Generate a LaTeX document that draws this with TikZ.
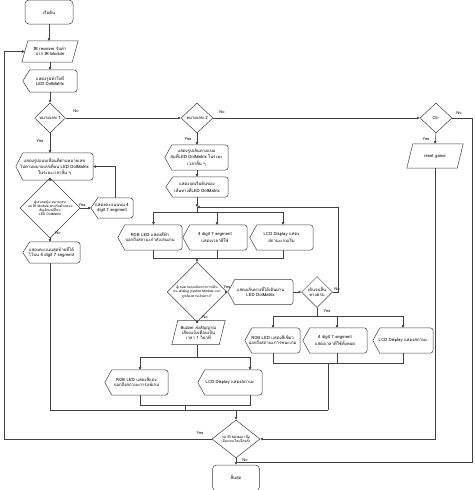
\documentclass[tikz,border=0pt]{standalone}
\usepackage{fontspec}
\newfontfamily\thaifont[Script=Thai]{Loma}
\usetikzlibrary{shapes.geometric,arrows.meta,calc}
\tikzset{
  base/.style={font=\thaifont\fontsize{4.3}{5.2}\selectfont, align=center, inner sep=0pt, text=black},
  small/.style={font=\thaifont\fontsize{3.4}{4.1}\selectfont},
  ln/.style={draw=black!75, line width=0.5pt},
  arr/.style={ln, -{Triangle[length=2.6pt,width=2.4pt]}},
  term/.style={base, draw=black!75, line width=0.5pt, rounded corners=4pt},
  dec/.style={base, diamond, draw=black!75, line width=0.5pt, inner sep=0pt},
  disp/.style={base},
  io/.style={base},
  lab/.style={font=\thaifont\fontsize{4}{4.5}\selectfont, inner sep=0pt},
}
\newcommand{\dispshape}[1]{\draw[ln] (#1.west) -- ([xshift=7pt]#1.north west) -- ([xshift=-7pt]#1.north east) .. controls (#1.north east) .. ([yshift=-7pt]#1.north east) -- ([yshift=7pt]#1.south east) .. controls (#1.south east) .. ([xshift=-7pt]#1.south east) -- ([xshift=7pt]#1.south west) -- cycle;}
\newcommand{\parashape}[1]{\draw[ln] ([xshift=6pt]#1.north west) -- (#1.north east) -- ([xshift=-6pt]#1.south east) -- (#1.south west) -- cycle;}
\begin{document}
\begin{tikzpicture}[x=1pt,y=-1pt]
\useasboundingbox (0,0) rectangle (474,490);
% left column
\node[term, minimum width=48pt, minimum height=24pt] (start) at (49,12) {เริ่มต้น};
\node[io, minimum width=56pt, minimum height=21pt] (ir) at (50,51.5) {IR receiver รับค่า\\จาก IR Module};
\node[disp, minimum width=54pt, minimum height=22pt] (d0) at (50,81) {แสดงรูปหัวใจที่\\LED DotMatrix};
\node[dec, minimum width=31pt, minimum height=30pt] (q1) at (50,118) {หมายเลข 1};
\node[disp, minimum width=77pt, minimum height=27pt] (d1) at (54.5,166.5) {แสดงรูปแบบเลื่อนที่ตามหมายเลข\\ไปตามหมายเลขที่บน LED DotMatrix\\ในระยะเวลาสั้น ๆ};
\node[dec, small, minimum width=53pt, minimum height=41pt] (q2) at (50,208) {ผู้เล่นกดปุ่ม หมายเลข\\บน IR Module ตรงกับตำแหน่ง\\สัญลักษณ์ที่บน\\LED DotMatrix};
\node[disp, minimum width=42pt, minimum height=20pt] (d2) at (112,208) {แสดงคะแนนบน 4\\digit 7 segment};
\node[disp, minimum width=57pt, minimum height=21pt] (d3) at (51.5,252.5) {แสดงคะแนนสุดท้ายที่ได้\\ไว้บน 4 digit 7 segment};
% middle column
\node[dec, minimum width=32pt, minimum height=30pt] (q3) at (197,118) {หมายเลข 2};
\node[disp, minimum width=63pt, minimum height=25pt] (m1) at (196.5,157.5) {แสดงรูปเส้นทางแบบ\\สุ่มที่LED DotMatrix ในระยะ\\เวลาสั้น ๆ};
\node[disp, minimum width=62pt, minimum height=20pt] (m2) at (197,187) {แสดงจุดเริ่มต้นของ\\เส้นทางที่LED DotMatrix};
\coordinate (j1) at (197,207);
\coordinate (j2) at (197,212);
\node[disp, minimum width=64pt, minimum height=25pt] (b1) at (150,237.5) {RGB LED แสดงสีฟ้า\\บอกถึงสถานะกำลังเล่นเกม};
\node[disp, minimum width=64pt, minimum height=25pt] (b2) at (215,237.5) {4 digit 7 segment\\แสดงเวลาที่ใช้};
\node[disp, minimum width=63pt, minimum height=25pt] (b3) at (281.5,237.5) {LCD Display แสดง\\สถานะเกมเริ่ม};
\coordinate (j3) at (197,258);
\node[dec, small, minimum width=50pt, minimum height=37pt] (q4) at (197,292) {ผู้เล่นควบคุมเส้นทางการเดิน\\บน analog joystick Module และ\\ถูกต้องตามเส้นทาง?};
\node[disp, minimum width=65pt, minimum height=25pt] (m3) at (260.5,292) {แสดงเส้นทางที่ได้เดินผ่าน\\LED DotMatrix};
\node[dec, minimum width=31pt, minimum height=31pt] (q5) at (317,292) {เดินจนสิ้น\\ทางครบ};
\coordinate (j4) at (317,316);
\node[disp, minimum width=55pt, minimum height=25pt] (r1) at (272.5,340.5) {RGB LED แสดงสีเขียว\\บอกถึงสถานะการชนะเกม};
\node[disp, minimum width=64pt, minimum height=25pt] (r2) at (335,340.5) {4 digit 7 segment\\แสดงเวลาที่ใช้ทั้งหมด};
\node[disp, minimum width=60pt, minimum height=25pt] (r3) at (403,340.5) {LCD Display แสดงสถานะ};
\coordinate (j5) at (328,363);
\node[io, minimum width=53pt, minimum height=24pt] (bz) at (198.5,332.5) {Buzzer ส่งสัญญาณ\\เสียงแจ้งเตือนเป็น\\เวลา 1 วินาที};
\coordinate (j6) at (197,357);
\node[disp, minimum width=63pt, minimum height=25pt] (k1) at (136.5,382.5) {RGB LED แสดงสีแดง\\บอกถึงสถานะการแพ้เกม};
\node[disp, minimum width=64pt, minimum height=25pt] (k2) at (230,382.5) {LCD Display แสดงสถานะ};
\coordinate (j7) at (185,405);
\coordinate (j8) at (236,410);
\node[dec, small, minimum width=48pt, minimum height=38pt] (q6) at (236,439) {กด IR Module เพื่อ\\เลือกเกมใหม่อีกครั้ง};
\node[term, minimum width=47pt, minimum height=26pt] (end) at (236,478) {สิ้นสุด};
\coordinate (j9) at (236,462);
% right column
\node[dec, minimum width=32pt, minimum height=30pt] (q7) at (436,118) {Clr-};
\node[io, minimum width=56pt, minimum height=24pt] (rs) at (435,156) {reset game};
\coordinate (lft) at (4,439);
\coordinate (rgt) at (472,462);
% shapes
\foreach \n in {d0,d1,d2,d3,m1,m2,b1,b2,b3,m3,r1,r2,r3,k1,k2} {\dispshape{\n}}
\foreach \n in {ir,bz,rs} {\parashape{\n}}
% connectors left
\draw[arr] (start.south) -- (start.south |- ir.north);
\draw[arr] (ir.south) -- (d0.north);
\draw[arr] (d0.south) -- (q1.north);
\draw[arr] (q1.south) -- (q1.south |- d1.north);
\draw[arr] (q1.south |- d1.south) -- (q2.north);
\draw[arr] (q2.east) -- (d2.west);
\draw[arr] ([xshift=3pt]d2.north) |- (d1.east);
\draw[arr] (q2.south) -- (q2.south |- d3.north);
\draw[ln] (q2.south |- d3.south) |- (j5 |- j8);
\draw[arr] (q1.east) -- (q3.west);
% middle
\draw[arr] (q3.south) -- (q3.south |- m1.north);
\draw[arr] (q3.south |- m1.south) -- (q3.south |- m2.north);
\draw[arr] (m2.south) -- (j1);
\draw[ln] (j1) -- (j2);
\draw[ln] ([xshift=3.5pt]b1.north |- j2) -- ([xshift=1.5pt]b3.north |- j2);
\draw[arr] ([xshift=3.5pt]b1.north |- j2) -- ([xshift=3.5pt]b1.north);
\draw[arr] ([xshift=2pt]b2.north |- j2) -- ([xshift=2pt]b2.north);
\draw[arr] ([xshift=1.5pt]b3.north |- j2) -- ([xshift=1.5pt]b3.north);
\draw[ln] ([xshift=3.5pt]b1.south) |- ([xshift=1.5pt]b3.south |- j3) -- ([xshift=1.5pt]b3.south);
\draw[ln] ([xshift=2pt]b2.south) -- ([xshift=2pt]b2.south |- j3);
\draw[arr] (j3) -- (q4.north);
\draw[arr] (q4.east) -- (m3.west);
\draw[arr] (m3.east) -- (q5.west);
\draw[arr] (q5.east) -- ++(5,0) |- (j1);
\draw[ln] (q5.south) -- (j4);
\draw[ln] ([xshift=0.5pt]r1.north |- j4) -- (r3.north |- j4);
\draw[arr] ([xshift=0.5pt]r1.north |- j4) -- ([xshift=0.5pt]r1.north);
\draw[arr] ([xshift=2pt]r2.north |- j4) -- ([xshift=2pt]r2.north);
\draw[arr] (r3.north |- j4) -- (r3.north);
\draw[ln] ([xshift=0.5pt]r1.south) |- (r3.south |- j5) -- (r3.south);
\draw[ln] ([xshift=2pt]r2.south) -- ([xshift=2pt]r2.south |- j5);
\draw[ln] (j5) -- (j5 |- j8);
\draw[arr] (q4.south) -- (q4.south |- bz.north);
\draw[ln] (q4.south |- bz.south) -- (j6);
\draw[ln] ([xshift=3.5pt]k1.north |- j6) -- ([xshift=20pt]k2.north |- j6);
\draw[arr] ([xshift=3.5pt]k1.north |- j6) -- ([xshift=3.5pt]k1.north);
\draw[arr] ([xshift=20pt]k2.north |- j6) -- ([xshift=20pt]k2.north);
\draw[ln] ([xshift=3.5pt]k1.south) |- ([xshift=20pt]k2.south |- j7) -- ([xshift=20pt]k2.south);
\draw[ln] (j7) -- (j7 |- j8);
\draw[arr] (j8) -- (q6.north);
% bottom and right
\draw[arr] (q3.east) -- (q7.west);
\draw[arr] (q7.south) -- (rs.north);
\draw[arr] (rs.south) -- (rs.south |- q6.east) -- (q6.east);
\draw[ln] (q7.east) -| (rgt) -- (j9);
\draw[arr] (q6.south) -- (end.north);
\draw[arr] (q6.west) -- (lft) |- ([xshift=3pt]ir.west);
% labels
\node[lab] (l1) at (76,111) {No};
\node[lab] (l2) at (40,141) {Yes};
\node[lab] (l3) at (82,205) {Yes};
\node[lab] (l4) at (58,233) {No};
\node[lab] (l5) at (222,112) {No};
\node[lab] (l6) at (188,139) {Yes};
\node[lab] (l7) at (227,287) {Yes};
\node[lab] (l8) at (205,317) {No};
\node[lab] (l9) at (337,289) {No};
\node[lab] (l10) at (327,311) {Yes};
\node[lab] (l11) at (459,113) {No};
\node[lab] (l12) at (426,139) {Yes};
\node[lab] (l13) at (200,433) {Yes};
\node[lab] (l14) at (245,460) {No};
\end{tikzpicture}
\end{document}
